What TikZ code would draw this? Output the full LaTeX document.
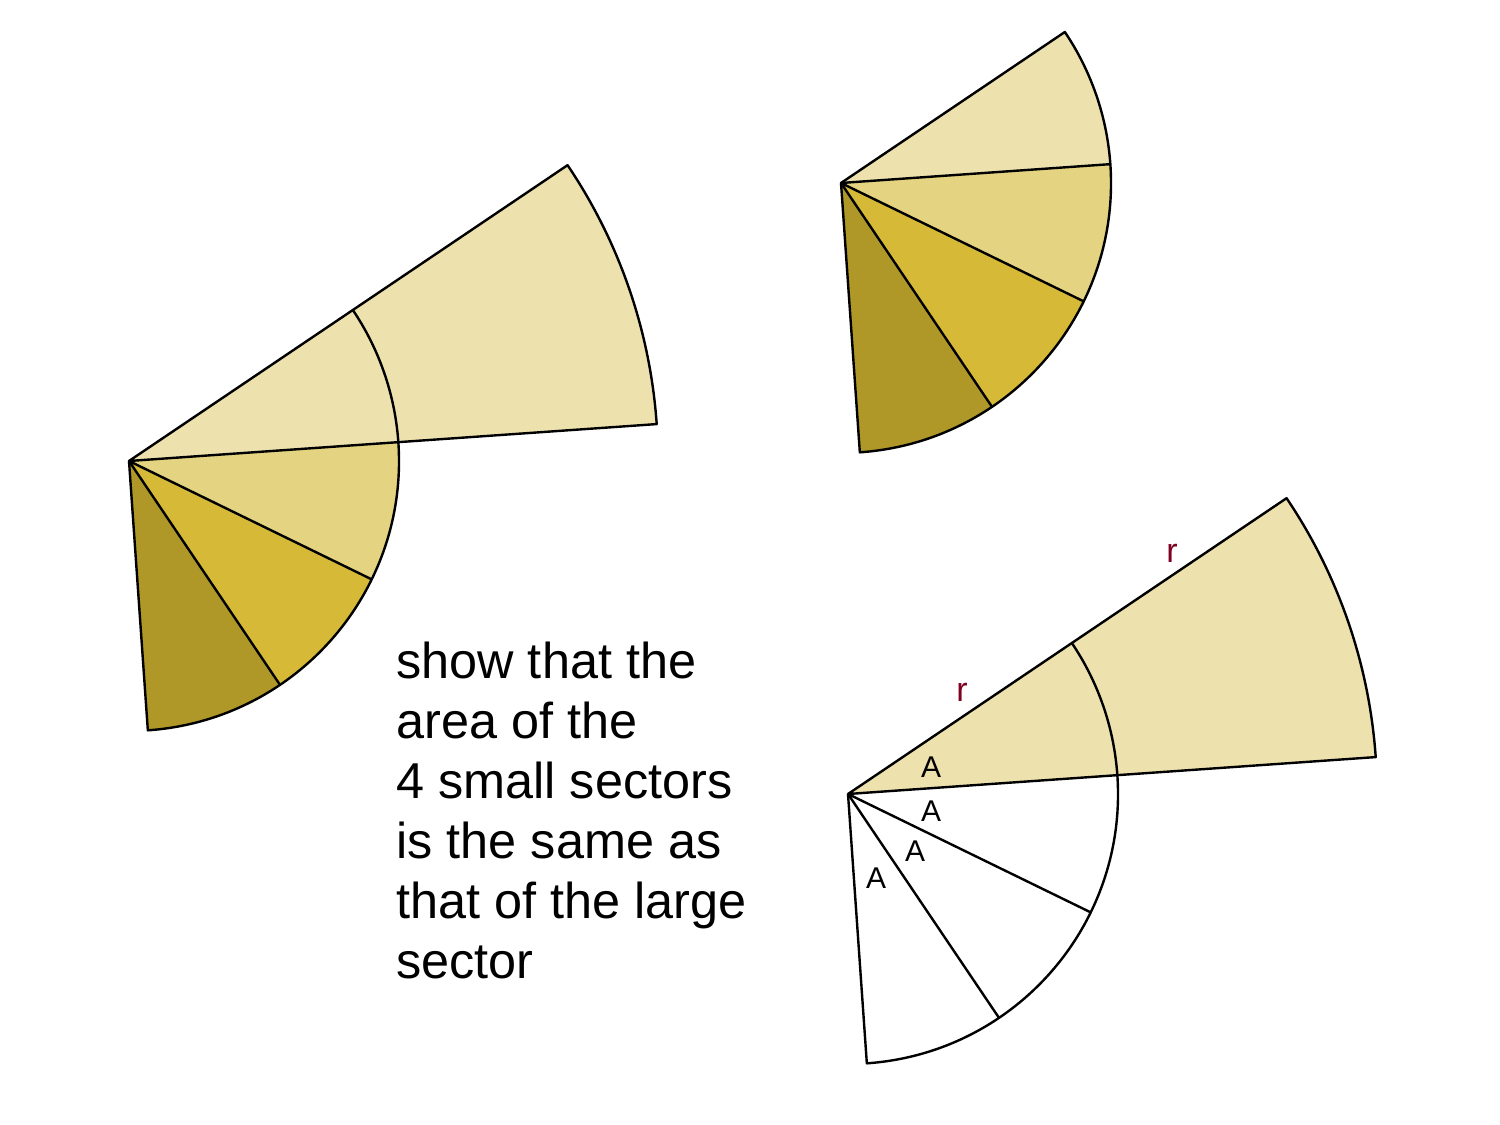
\documentclass[tikz,border=0pt]{standalone}
\usepackage{fontspec}
\setmainfont{Liberation Sans}
\definecolor{cA}{HTML}{EDE2AE}
\definecolor{cB}{HTML}{E4D380}
\definecolor{cC}{HTML}{D6B936}
\definecolor{cD}{HTML}{B09828}
\definecolor{rred}{HTML}{800020}
\begin{document}
\begin{tikzpicture}[x=0.5pt,y=0.5pt,
  outl/.style={draw=black,line width=1.2pt,line join=round},
  bigtext/.style={anchor=base west,inner sep=0pt,font=\fontsize{25.2}{30}\selectfont},
  rlab/.style={text=rred,font=\fontsize{17}{20}\selectfont,inner sep=0pt},
  alab/.style={text=black,font=\fontsize{15}{18}\selectfont,inner sep=0pt}]
\useasboundingbox (0,0) rectangle (1500,1125);
\def\rs{270}
\def\rl{529}
% ---------- left figure ----------
\coordinate (L) at (129,664);
\fill[cA] (L) -- ++(4:\rl) arc (4:34:\rl) -- cycle;
\fill[cB] (L) -- ++(-26:\rs) arc (-26:4:\rs) -- cycle;
\fill[cC] (L) -- ++(-56:\rs) arc (-56:-26:\rs) -- cycle;
\fill[cD] (L) -- ++(-86:\rs) arc (-86:-56:\rs) -- cycle;
\draw[outl] (L) -- ++(4:\rl) arc (4:34:\rl) -- cycle;
\draw[outl] (L) ++(4:\rs) arc (4:34:\rs);
\draw[outl] (L) -- ++(-86:\rs) arc (-86:4:\rs);
\draw[outl] (L) -- ++(-26:\rs);
\draw[outl] (L) -- ++(-56:\rs);
% ---------- top right figure ----------
\coordinate (T) at (841,942);
\fill[cA] (T) -- ++(4:\rs) arc (4:34:\rs) -- cycle;
\fill[cB] (T) -- ++(-26:\rs) arc (-26:4:\rs) -- cycle;
\fill[cC] (T) -- ++(-56:\rs) arc (-56:-26:\rs) -- cycle;
\fill[cD] (T) -- ++(-86:\rs) arc (-86:-56:\rs) -- cycle;
\draw[outl] (T) -- ++(-86:\rs) arc (-86:34:\rs) -- cycle;
\draw[outl] (T) -- ++(4:\rs);
\draw[outl] (T) -- ++(-26:\rs);
\draw[outl] (T) -- ++(-56:\rs);
% ---------- bottom right figure ----------
\coordinate (B) at (848,331);
\fill[cA] (B) -- ++(4:\rl) arc (4:34:\rl) -- cycle;
\draw[outl] (B) -- ++(4:\rl) arc (4:34:\rl) -- cycle;
\draw[outl] (B) ++(4:\rs) arc (4:34:\rs);
\draw[outl] (B) -- ++(-86:\rs) arc (-86:4:\rs);
\draw[outl] (B) -- ++(-26:\rs);
\draw[outl] (B) -- ++(-56:\rs);
\node[rlab] (r1) at (962,433) {r};
\node[rlab] (r2) at (1172,572) {r};
\node[alab] (a1) at (931,358) {A};
\node[alab] (a2) at (931,314) {A};
\node[alab] (a3) at (915,274) {A};
\node[alab] (a4) at (876,247) {A};
% ---------- text ----------
\node[bigtext] (t1) at (396,446) {show that the};
\node[bigtext] (t2) at (396,386) {area of the};
\node[bigtext] (t3) at (396,326) {4 small sectors};
\node[bigtext] (t4) at (396,266) {is the same as};
\node[bigtext] (t5) at (396,206) {that of the large};
\node[bigtext] (t6) at (396,146) {sector};
\end{tikzpicture}
\end{document}
